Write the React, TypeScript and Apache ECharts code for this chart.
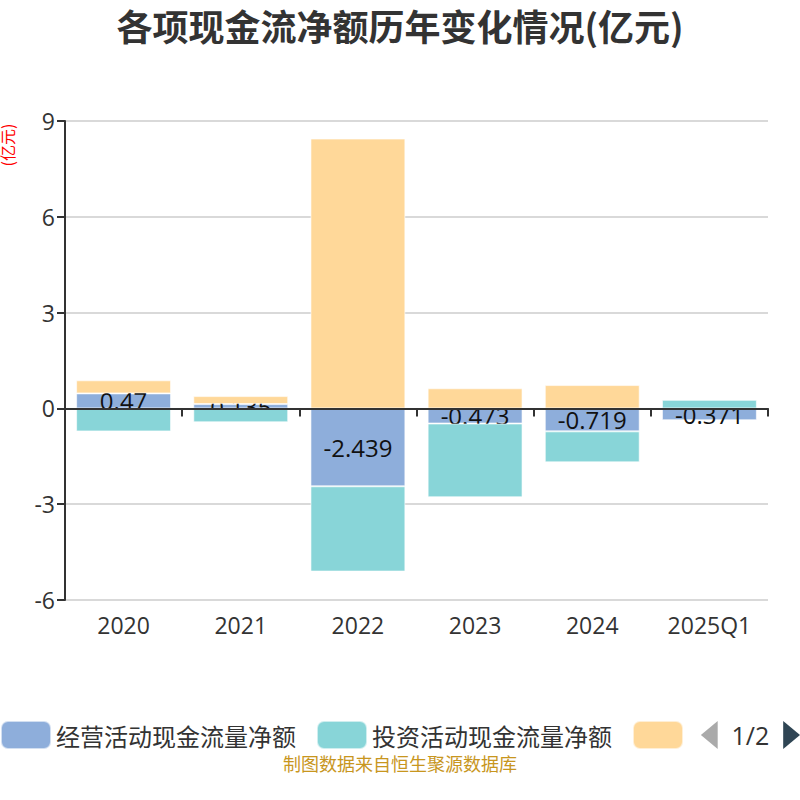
import React, { useEffect, useRef } from "react";
import * as echarts from "echarts";

const categories = ["2020", "2021", "2022", "2023", "2024", "2025Q1"];
const operating = [0.47, 0.135, -2.439, -0.473, -0.719, -0.371];
const investing = [-0.72, -0.435, -2.67, -2.31, -0.97, 0.27];
const financing = [0.41, 0.25, 8.45, 0.63, 0.73, 0.01];
const seriesNames = ["经营活动现金流量净额", "投资活动现金流量净额", "筹资活动现金流量净额"];
const colors = ["#8EAEDB", "#88D5D8", "#FFD899"];

const FONT = "'Open Sans', 'Noto Sans CJK SC', sans-serif";
const CJK = "'Noto Sans CJK SC', sans-serif";

export default function App() {
  const ref = useRef<HTMLDivElement>(null);
  useEffect(() => {
    if (!ref.current) return;
    document.body.style.margin = "0";
    const chart = echarts.init(ref.current, null, { renderer: "svg" });
    const values = [operating, investing, financing];
    chart.setOption({
      animation: false,
      textStyle: { fontFamily: FONT },
      title: {
        text: "各项现金流净额历年变化情况(亿元)",
        left: "center",
        top: 2,
        textStyle: { fontSize: 36, fontWeight: "bold", color: "#333", fontFamily: CJK },
      },
      graphic: [
        {
          type: "text",
          x: -1,
          y: 145,
          rotation: Math.PI / 2,
          style: {
            text: "(亿元)",
            fill: "#ff0000",
            font: "16px 'Noto Sans CJK SC', sans-serif",
            textAlign: "center",
            textVerticalAlign: "top",
          },
        },
        {
          type: "text",
          x: 400,
          y: 763,
          style: {
            text: "制图数据来自恒生聚源数据库",
            fill: "#C8961E",
            font: "18px 'Noto Sans CJK SC', sans-serif",
            textAlign: "center",
            textVerticalAlign: "middle",
          },
        },
      ],
      legend: {
        type: "scroll",
        left: 0,
        right: 0,
        top: 720,
        padding: 0,
        itemWidth: 50,
        itemHeight: 28,
        itemGap: 20,
        icon: "roundRect",
        textStyle: { fontSize: 24, color: "#333", fontFamily: CJK },
        pageIconSize: [17, 28],
        pageButtonItemGap: 2,
        pageButtonGap: 13,
        pageIconColor: "#2f4554",
        pageIconInactiveColor: "#aaa",
        pageTextStyle: { fontSize: 25, color: "#333", fontFamily: FONT },
        data: seriesNames,
      },
      grid: { left: 65, right: 32, top: 121, bottom: 200 },
      xAxis: [
        {
          type: "category",
          data: categories,
          axisLine: { onZero: true, lineStyle: { color: "#333", width: 2 } },
          axisTick: { show: true, length: 8, lineStyle: { color: "#333", width: 2 } },
          axisLabel: { show: false },
          z: 5,
        },
        {
          type: "category",
          data: categories,
          position: "bottom",
          axisLine: { show: false, onZero: false },
          axisTick: { show: false },
          axisLabel: { fontSize: 23, color: "#333", margin: 13 },
        },
      ],
      yAxis: {
        type: "value",
        min: -6,
        max: 9,
        interval: 3,
        axisLine: { show: true, lineStyle: { color: "#333", width: 2 } },
        axisTick: { show: true, length: 8, lineStyle: { color: "#333", width: 2 } },
        axisLabel: { fontSize: 23, color: "#333", margin: 10 },
        splitLine: { lineStyle: { color: "#ccc", width: 1.5 } },
      },
      series: seriesNames.map((name, i) => ({
        name,
        type: "bar",
        stack: "total",
        xAxisIndex: 0,
        barWidth: "81%",
        z: i === 0 ? 1 : 3,
        data: values[i],
        itemStyle: { color: colors[i], borderColor: "rgba(255,255,255,0.6)", borderWidth: 1 },
        label:
          i === 0
            ? { show: true, position: "inside", fontSize: 24, color: "#111", fontFamily: FONT }
            : { show: false },
      })),
    });
    return () => chart.dispose();
  }, []);
  return <div ref={ref} style={{ width: 800, height: 800 }} />;
}
